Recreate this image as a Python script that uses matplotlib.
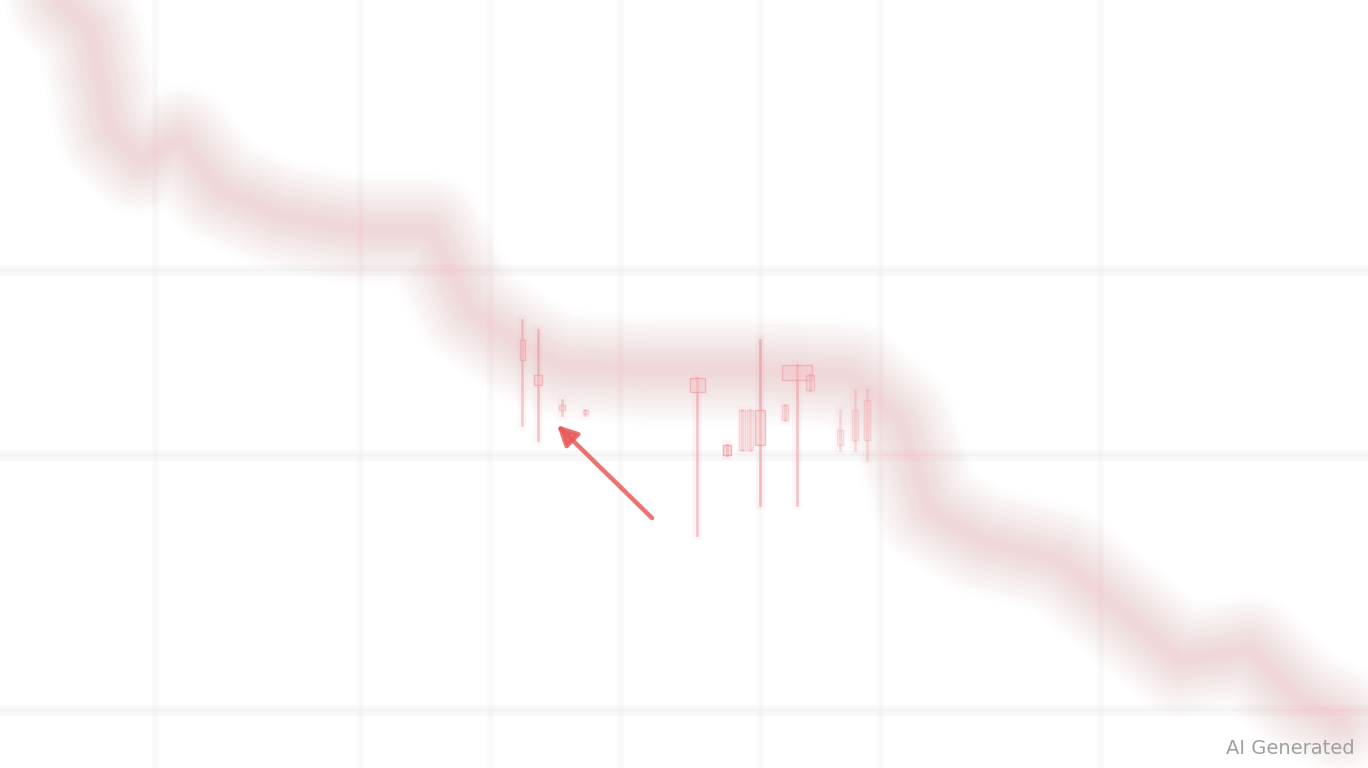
import matplotlib
matplotlib.use("Agg")
import matplotlib.pyplot as plt
import numpy as np

# ---- data (day index, price) ----
trend_days = [3.0, 4.5, 5.5, 7.0, 9.0, 11.0, 14.0, 18.0, 21.5, 23.5, 26.0, 28.0, 32.5,
              37.5, 42.5, 45.0, 46.5, 49.0, 53.0, 56.0, 59.0, 62.5, 65.0, 67.0]
trend_price = [100.0, 97.0, 87.0, 84.0, 86.0, 81.0, 78.5, 77.0, 77.0, 69.0, 65.5, 63.5, 63.0,
               63.0, 62.5, 58.0, 49.0, 46.0, 44.0, 39.0, 34.0, 35.0, 30.0, 28.0]

candle_days = [26.1, 26.9, 28.1, 29.25, 34.85, 36.35, 37.1, 37.5, 38.0, 39.25, 39.85, 40.5, 42.0, 42.75, 43.35]
candle_open = [66.0, 62.5, 59.5, 58.9, 62.2, 55.5, 59.0, 59.0, 59.0, 59.5, 63.5, 62.5, 57.0, 59.0, 60.0]
candle_close = [64.0, 61.5, 59.0, 58.6, 60.8, 54.5, 55.0, 55.0, 55.5, 58.0, 62.0, 61.0, 55.5, 56.0, 56.0]
candle_high = [68.0, 67.0, 60.0, 59.0, 62.2, 55.5, 59.0, 59.0, 66.0, 59.5, 63.5, 62.5, 59.0, 61.0, 61.0]
candle_low = [57.5, 56.0, 58.5, 58.5, 46.5, 54.5, 55.0, 55.0, 49.5, 58.0, 49.5, 61.0, 55.0, 55.0, 54.0]

arrow_tail = (32.6, 48.2)
arrow_head = (27.85, 57.5)

# ---- styles ----
body_widths = [0.25, 0.4, 0.3, 0.25, 0.75, 0.4, 0.3, 0.3, 0.5, 0.3, 1.5, 0.4, 0.3, 0.3, 0.3]
candle_alpha = [0.4, 0.45, 0.35, 0.3, 0.45, 0.55, 0.3, 0.3, 0.5, 0.3, 0.45, 0.35, 0.25, 0.25, 0.25]

fig = plt.figure(figsize=(13.68, 7.68), dpi=100)
fig.patch.set_facecolor("white")
ax = fig.add_axes([0, 0, 1, 1])
ax.set_xlim(0, 68.4)
ax.set_ylim(23.2, 100)
ax.set_facecolor("white")
for s in ax.spines.values():
    s.set_visible(False)
ax.set_xticks([])
ax.set_yticks([])

# faint grid
for yv in [73.0, 54.5, 29.0]:
    ax.axhline(yv, color="#f0f0f0", lw=8, alpha=0.35, zorder=0)
    ax.axhline(yv, color="#ececec", lw=1.5, alpha=0.4, zorder=0)
for xv in [7.75, 18.0, 24.5, 31.0, 38.0, 44.0, 55.0]:
    ax.axvline(xv, color="#f2f2f2", lw=5, alpha=0.3, zorder=0)
    ax.axvline(xv, color="#eeeeee", lw=1.0, alpha=0.35, zorder=0)

# blurred trend line (many soft layered strokes)
for lw in np.linspace(80, 6, 20):
    ax.plot(trend_days, trend_price, color="#f07c88", lw=lw, alpha=0.013,
            solid_capstyle="round", solid_joinstyle="round", zorder=1)

# candles
for d, o, c, h, l, w, a in zip(candle_days, candle_open, candle_close, candle_high,
                               candle_low, body_widths, candle_alpha):
    ax.plot([d, d], [l, h], color="#f4a8b0", lw=7, alpha=a * 0.2, zorder=3)
    ax.plot([d, d], [l, h], color="#ec8a94", lw=2.0, alpha=a, zorder=3)
    lo, hi = min(o, c), max(o, c)
    ax.add_patch(plt.Rectangle((d - w / 2, lo), w, max(hi - lo, 0.4),
                               facecolor="#f7c4c8", edgecolor="#ec8a94",
                               lw=1.0, alpha=a, zorder=3))

# arrow
ax.annotate("", xy=arrow_head, xytext=arrow_tail,
            arrowprops=dict(arrowstyle="-|>,head_length=1.2,head_width=0.6",
                            color="#e85a5a", lw=3.2, alpha=0.85, shrinkA=0, shrinkB=0),
            zorder=5)

fig.text(1355 / 1368, 1 - 748 / 768, "AI Generated", ha="right", va="center",
         fontsize=14, color="#a0a0a0", family="DejaVu Sans")

fig.savefig("out.png", dpi=100, facecolor="white")
